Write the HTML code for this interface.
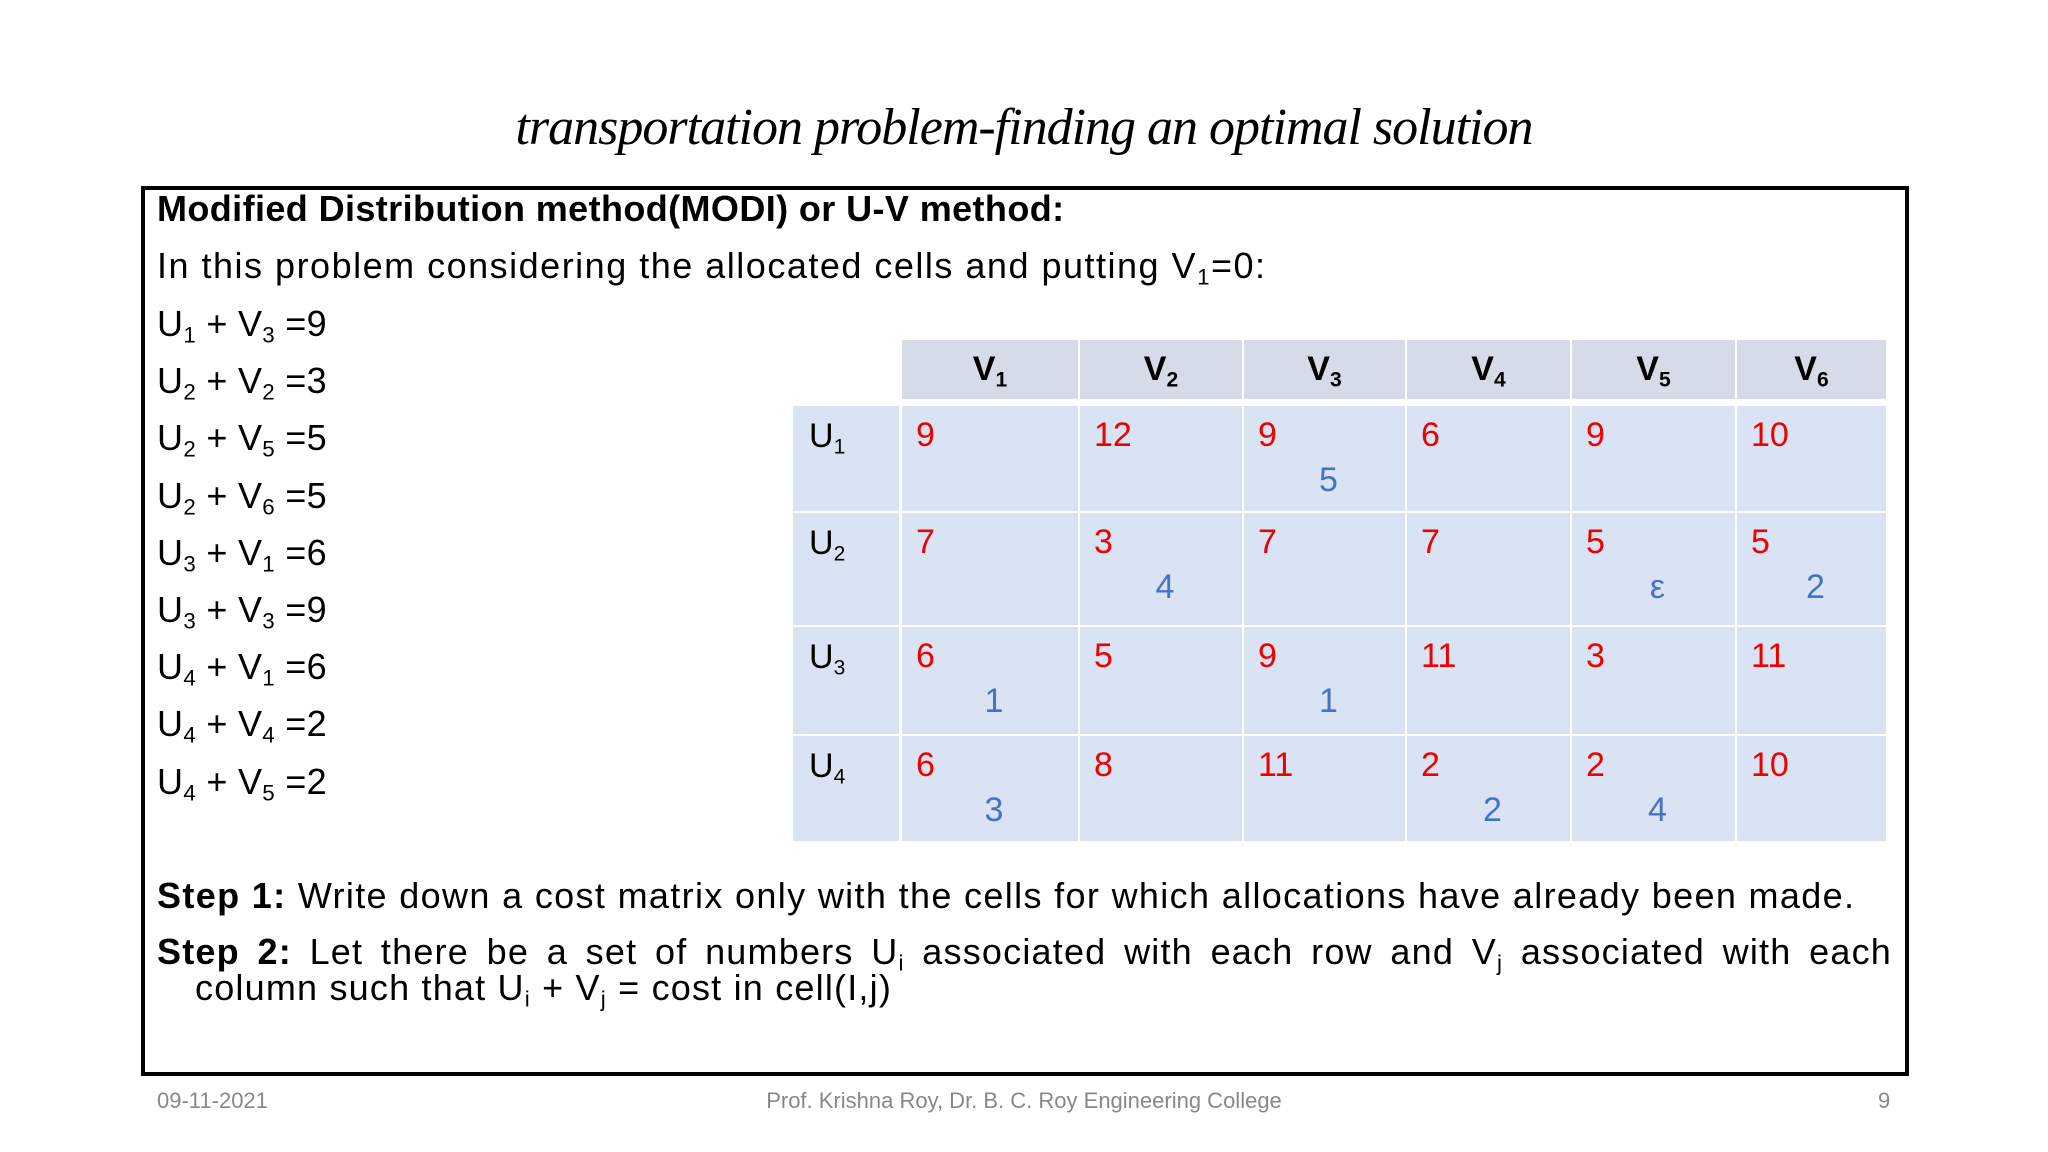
<!DOCTYPE html>
<html><head><meta charset="utf-8"><style>
body{margin:0;width:2048px;height:1152px;background:#fff;position:relative;overflow:hidden;font-family:"Liberation Sans",sans-serif;}
.a{position:absolute;white-space:nowrap;}
.t{font-size:36px;color:#000;line-height:1;letter-spacing:1.2px;}
.eq{letter-spacing:0.3px;}
sub{font-size:0.62em;vertical-align:-0.3em;line-height:0;}
.cell{position:absolute;background:#dae3f3;}
.hd{position:absolute;background:#d5dbe7;}
.red{position:absolute;color:#ee0000;font-size:34px;line-height:1;}
.blue{position:absolute;color:#4472c4;font-size:34px;line-height:1;transform:translateX(-50%);}
</style></head><body>
<div class="a" style="left:0;width:2048px;text-align:center;top:98px;font-family:'Liberation Serif',serif;font-style:italic;font-size:52px;letter-spacing:-1px;">transportation problem-finding an optimal solution</div>
<div class="a" style="left:141px;top:186px;width:1760px;height:882px;border:4px solid #000;"></div>
<div class="a t" style="left:157px;top:191px;font-weight:bold;letter-spacing:0.4px;">Modified Distribution method(MODI) or U-V method:</div>
<div class="a t" style="left:157px;top:248px;letter-spacing:1.5px;">In this problem considering the allocated cells and putting V<sub>1</sub>=0:</div>
<div id="eqs"></div>
<div id="tbl"></div>
<div class="a t" style="left:157px;top:878px;letter-spacing:1.35px;"><b>Step 1:</b> Write down a cost matrix only with the cells for which allocations have already been made.</div>
<div class="a t" style="left:157px;top:934px;width:1735px;text-align:justify;text-align-last:justify;white-space:normal;"><b>Step 2:</b> Let there be a set of numbers U<sub>i</sub> associated with each row and V<sub>j</sub> associated with each</div>
<div class="a t" style="left:195px;top:970px;letter-spacing:1.2px;">column such that U<sub>i</sub> + V<sub>j</sub> = cost in cell(I,j)</div>
<div class="a" style="left:157px;top:1088px;font-size:22px;color:#888;">09-11-2021</div>
<div class="a" style="left:0;width:2048px;text-align:center;top:1088px;font-size:22px;color:#888;">Prof. Krishna Roy, Dr. B. C. Roy Engineering College</div>
<div class="a" style="left:1878px;top:1088px;font-size:22px;color:#888;">9</div>
<script>
const eqU=[1,2,2,2,3,3,4,4,4];
const eqV=[3,2,5,6,1,3,1,4,5];
const eqVal=[9,3,5,5,6,9,6,2,2];
const costs=[[9,12,9,6,9,10],[7,3,7,7,5,5],[6,5,9,11,3,11],[6,8,11,2,2,10]];
const allocs=[[null,null,'5',null,null,null],[null,'4',null,null,'ε','2'],['1',null,'1',null,null,null],['3',null,null,'2','4',null]];
const colEdges=[901,1079,1243,1406,1571,1736,1887];
const rowEdges=[405,512,626,735,842];
const E=document.getElementById('eqs');
eqU.forEach((u,i)=>{const d=document.createElement('div');


d.className='a t eq';d.style.left='157px';d.style.top=(306+i*57.2)+'px';
d.innerHTML='U<sub>'+u+'</sub> + V<sub>'+eqV[i]+'</sub> ='+eqVal[i];E.appendChild(d);});
const T=document.getElementById('tbl');
function mk(cls,x,y,w,h,html){const d=document.createElement('div');d.className=cls;d.style.left=x+'px';d.style.top=y+'px';if(w!=null){d.style.width=w+'px';d.style.height=h+'px';}if(html!=null)d.innerHTML=html;T.appendChild(d);return d;}
for(let j=0;j<6;j++){const x=colEdges[j]+1,w=colEdges[j+1]-colEdges[j]-2;
const h=mk('hd',x,340,w,59);


const l=mk('a',x,350,w,40,'V<sub>'+(j+1)+'</sub>');l.style.textAlign='center';l.style.fontWeight='bold';l.style.fontSize='34px';

}
for(let i=0;i<4;i++){const y=rowEdges[i]+1,h=rowEdges[i+1]-rowEdges[i]-2;
const rc=mk('cell',793,y,106,h);


const rl=mk('a',809,y+11,null,null,'U<sub>'+(i+1)+'</sub>');rl.style.fontSize='34px';


for(let j=0;j<6;j++){const x=colEdges[j]+1,w=colEdges[j+1]-colEdges[j]-2;
const c=mk('cell',x,y,w,h);


const r=mk('red',x+14,y+12,null,null,String(costs[i][j]));


if(allocs[i][j]!==null){const b=mk('blue',x+w/2+4,y+57,null,null,allocs[i][j]);

}}}
</script>
</body></html>
